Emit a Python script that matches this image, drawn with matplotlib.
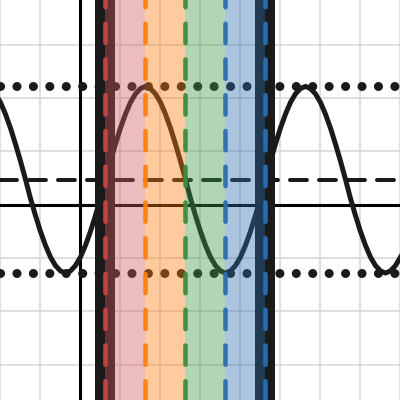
import numpy as np
import matplotlib
matplotlib.use("Agg")
import matplotlib.pyplot as plt

# one full cycle starts at x = 1, samples every pi/16
x_first = 1 - 22 * np.pi / 16
step = np.pi / 16
y_vals = [
    1.04, 0.96, 0.85, 0.72, 0.57, 0.41, 0.24, 0.06, -0.10, -0.25, -0.38,
    -0.49, -0.57, -0.62, -0.64, -0.62, -0.57, -0.49, -0.38, -0.25, -0.10, 0.06,
    0.24, 0.41, 0.57, 0.72, 0.85, 0.96, 1.04, 1.09, 1.11, 1.09, 1.04, 0.96,
    0.85, 0.72, 0.57, 0.41, 0.24, 0.06, -0.10, -0.25, -0.38, -0.49, -0.57,
    -0.62, -0.64, -0.62, -0.57, -0.49, -0.38, -0.25, -0.10, 0.06,
    0.24, 0.41, 0.57, 0.72, 0.85, 0.96, 1.04, 1.09, 1.11, 1.09, 1.04, 0.96,
    0.85, 0.72, 0.57, 0.41, 0.24, 0.06, -0.10, -0.25, -0.38, -0.49, -0.57,
    -0.62, -0.64, -0.62, -0.57, -0.49,
]
x_vals = x_first + step * np.arange(len(y_vals))

y_max = 1.11
y_min = -0.64
y_mean = 0.235

edges = [1.0, 2.57, 4.14, 5.71, 7.28]
band_colors = ["#cf5a5e", "#ff7f0e", "#3f9a45", "#2f6fb0"]
edge_colors = ["#c84444", "#ff7f0e", "#3d8b3d", "#2a6fb0", "#2a6fb0"]
cycle_bounds = [1.0, 7.28]

fig = plt.figure(figsize=(4, 4), dpi=100)
ax = fig.add_axes([0, 0, 1, 1])

ax.set_xlim(-np.pi, 4 * np.pi)
ax.set_ylim(-1.83, 1.92)
ax.set_xticks(np.arange(-2, 9) * np.pi / 2)
ax.set_yticks(np.arange(-1.5, 2.0, 0.5))
ax.tick_params(length=0, labelbottom=False, labelleft=False)
for s in ax.spines.values():
    s.set_visible(False)
ax.grid(True, color="#d9d9d9", lw=1.2, zorder=0)
ax.set_axisbelow(True)

ax.axhline(0, color="k", lw=2.2, zorder=1)
ax.axvline(0, color="k", lw=2.2, zorder=1)

for b in cycle_bounds:
    ax.axvline(b, color="#1a1a1a", lw=14.4, zorder=1.5)

ax.plot(x_vals, y_vals, color="#1a1a1a", lw=3.6, zorder=2)

ax.axhline(y_max, color="#1a1a1a", lw=6.5, ls=(0, (0.01, 1.81)),
           dash_capstyle="round", zorder=2)
ax.axhline(y_min, color="#1a1a1a", lw=6.5, ls=(0, (0.01, 1.81)),
           dash_capstyle="round", zorder=2)
ax.axhline(y_mean, color="#1a1a1a", lw=2.9, ls=(0, (4.2, 3.0)),
           dash_capstyle="round", zorder=2)

for i, c in enumerate(band_colors):
    ax.axvspan(edges[i], edges[i + 1], color=c, alpha=0.4, lw=0, zorder=3)

for e, c in zip(edges, edge_colors):
    ax.axvline(e, color=c, lw=3.3, ls=(0, (4.2, 3.6)),
               dash_capstyle="round", alpha=0.95, zorder=4)

fig.savefig("out.png", dpi=100)
plt.close(fig)
